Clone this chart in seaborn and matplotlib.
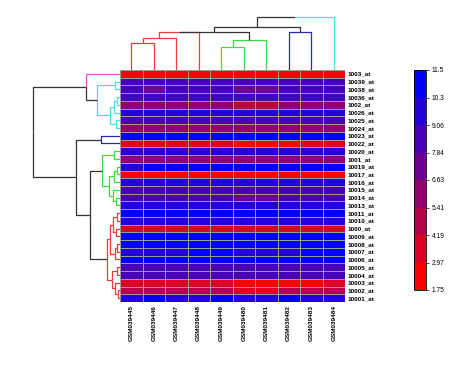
import numpy as np
import pandas as pd
import matplotlib
matplotlib.use("Agg")
import matplotlib.pyplot as plt
from matplotlib.colors import ListedColormap, BoundaryNorm
import seaborn as sns

# ---------------- data ----------------
ROW_LABELS = ["1003_at", "10039_at", "10038_at", "10036_at", "1002_at",
              "10026_at", "10025_at", "10024_at", "10023_at", "10022_at",
              "10020_at", "1001_at", "10019_at", "10017_at", "10016_at",
              "10015_at", "10014_at", "10013_at", "10011_at", "10010_at",
              "1000_at", "10009_at", "10008_at", "10007_at", "10006_at",
              "10005_at", "10004_at", "10003_at", "10002_at", "10001_at"]
COL_LABELS = ["GSM039445", "GSM039446", "GSM039447", "GSM039448", "GSM039449",
              "GSM039480", "GSM039481", "GSM039482", "GSM039483", "GSM039484"]

VALUES = [
    [2.6, 2.5, 2.6, 2.7, 2.6, 2.4, 2.3, 2.5, 2.6, 2.6],
    [8.3, 8.5, 8.6, 8.4, 8.6, 8.8, 8.5, 8.7, 8.6, 8.5],
    [7.9, 7.8, 8.0, 7.9, 8.1, 7.7, 7.8, 8.0, 8.2, 8.0],
    [8.1, 8.0, 8.2, 8.1, 8.0, 8.3, 8.2, 8.4, 8.1, 8.2],
    [5.6, 5.5, 5.7, 5.6, 5.5, 5.3, 5.4, 6.4, 6.5, 6.2],
    [9.2, 9.3, 9.1, 9.4, 9.3, 9.5, 9.2, 9.4, 9.6, 9.3],
    [8.0, 8.1, 7.9, 8.0, 8.2, 7.9, 8.1, 8.3, 8.4, 8.1],
    [5.8, 5.9, 5.7, 5.8, 6.0, 5.6, 5.7, 6.5, 6.6, 6.2],
    [10.6, 10.7, 10.5, 10.6, 10.8, 10.4, 10.6, 10.7, 10.5, 10.6],
    [3.6, 3.5, 3.7, 3.6, 3.5, 2.6, 2.5, 2.7, 3.4, 3.5],
    [9.3, 9.2, 9.4, 9.3, 9.1, 9.5, 9.3, 9.4, 9.6, 9.4],
    [6.0, 5.9, 6.1, 6.0, 6.2, 5.7, 5.6, 5.8, 6.1, 6.0],
    [10.2, 10.4, 10.5, 10.3, 10.4, 10.6, 10.5, 10.4, 10.3, 10.4],
    [2.3, 2.2, 2.4, 2.3, 2.2, 2.1, 2.2, 2.3, 2.4, 2.3],
    [9.5, 9.6, 9.4, 9.5, 9.7, 9.3, 9.5, 9.6, 9.4, 9.5],
    [8.2, 8.3, 8.1, 8.2, 8.4, 8.0, 8.3, 8.5, 8.4, 8.2],
    [8.0, 8.1, 7.9, 8.0, 8.1, 6.9, 7.8, 8.2, 8.3, 8.1],
    [9.3, 9.4, 9.2, 9.3, 9.5, 9.1, 9.3, 9.4, 9.6, 9.3],
    [10.4, 10.5, 10.3, 10.4, 10.6, 10.3, 10.5, 10.4, 10.6, 10.5],
    [9.4, 9.5, 9.3, 9.4, 9.6, 9.2, 9.4, 9.5, 9.7, 9.4],
    [3.5, 3.6, 3.4, 3.5, 3.6, 3.2, 3.4, 3.5, 3.6, 3.5],
    [10.4, 10.5, 10.6, 10.4, 10.5, 10.6, 10.7, 10.5, 10.4, 10.5],
    [10.8, 10.9, 10.7, 10.8, 11.0, 10.7, 10.8, 10.9, 10.7, 10.8],
    [9.8, 9.9, 9.7, 10.4, 10.5, 9.7, 9.8, 9.9, 10.4, 10.5],
    [11.0, 11.1, 10.9, 11.0, 11.2, 10.9, 11.0, 11.1, 10.9, 11.0],
    [8.1, 8.2, 8.0, 8.1, 8.3, 7.9, 8.1, 8.2, 8.0, 8.1],
    [8.6, 8.7, 8.5, 8.6, 8.8, 8.4, 8.6, 8.7, 8.5, 8.6],
    [3.6, 3.5, 3.7, 3.6, 3.5, 2.6, 2.5, 2.7, 2.8, 3.5],
    [5.0, 5.1, 4.9, 5.0, 5.2, 3.9, 3.8, 4.9, 5.0, 5.1],
    [10.2, 10.3, 10.1, 10.2, 10.4, 10.1, 10.2, 10.3, 10.1, 10.2],
]

CBAR_TICKS = [1.75, 2.97, 4.19, 5.41, 6.63, 7.84, 9.06, 10.3, 11.5]
CBAR_LABELS = ["1.75", "2.97", "4.19", "5.41", "6.63", "7.84", "9.06", "10.3", "11.5"]

# row dendrogram: merges (child a, child b, height); leaves 0..29, new nodes 30..
ROW_LINK_A = [3, 30, 6, 31, 1, 34, 0, 8, 10, 12, 39, 16, 15, 40, 38,
              18, 20, 45, 22, 48, 47, 25, 28, 27, 51, 50, 44, 37, 36]
ROW_LINK_B = [4, 5, 7, 32, 2, 33, 35, 9, 11, 13, 14, 17, 41, 42, 43,
              19, 21, 46, 23, 24, 49, 26, 29, 52, 53, 54, 55, 56, 57]
ROW_LINK_H = [3, 6, 4, 10, 5, 23, 34, 19, 6, 3, 6, 4, 7, 11, 18,
              3, 4, 7, 3, 5, 10, 3, 2, 5, 8, 13, 30, 44, 87]
ROW_CLUSTER = ["m"] + ["c"] * 7 + ["b"] * 2 + ["g"] * 8 + ["r"] * 12

# column dendrogram: leaves 0..9, new nodes 10..
COL_LINK_A = [0, 10, 11, 4, 13, 12, 7, 15, 17]
COL_LINK_B = [1, 2, 3, 5, 6, 14, 8, 16, 9]
COL_LINK_H = [26.7, 32.3, 37.7, 23.3, 30.0, 38.3, 37.7, 43.3, 53.3]
COL_CLUSTER = ["r"] * 4 + ["g"] * 3 + ["b"] * 2 + ["c"]

LINE_COLORS = {"r": "#ee3a3a", "g": "#3ade3a", "b": "#2828c0",
               "c": "#4adede", "m": "#e84ae8", None: "#333333"}

# ---------------- figure ----------------
W, H = 474, 370
fig = plt.figure(figsize=(W / 100, H / 100), dpi=100)
fig.patch.set_facecolor("white")


def fx(px):
    return px / W


def fy(px):
    return 1 - px / H


hm_l, hm_r, hm_t, hm_b = 120, 345, 70, 302
ax_h = fig.add_axes([fx(hm_l), fy(hm_b), fx(hm_r - hm_l), (hm_b - hm_t) / H])
ax_row = fig.add_axes([fx(30), fy(hm_b), fx(hm_l - 30), (hm_b - hm_t) / H])
ax_col = fig.add_axes([fx(hm_l), fy(hm_t), fx(hm_r - hm_l), 55 / H])
ax_cb = fig.add_axes([fx(414), fy(290), fx(12), 220 / H])

n_bins = len(CBAR_TICKS) - 1
colors = [(1 - i / (n_bins - 1), 0.0, i / (n_bins - 1)) for i in range(n_bins)]
cmap = ListedColormap(colors)
norm = BoundaryNorm(CBAR_TICKS, n_bins)

df = pd.DataFrame(VALUES, index=ROW_LABELS, columns=COL_LABELS)
sns.heatmap(df, ax=ax_h, cmap=cmap, norm=norm, cbar_ax=ax_cb,
            linewidths=0.5, linecolor="#9a9a9a",
            xticklabels=COL_LABELS, yticklabels=ROW_LABELS,
            cbar_kws={"ticks": CBAR_TICKS})

ax_h.yaxis.tick_right()
ax_h.set_yticklabels(ROW_LABELS, rotation=0, fontsize=4.6,
                     fontweight="bold", family="Liberation Sans")
ax_h.set_xticklabels(COL_LABELS, rotation=90, fontsize=4.6,
                     fontweight="bold", family="Liberation Sans")
ax_h.tick_params(axis="both", length=0, pad=2)
ax_h.set_xlabel("")
ax_h.set_ylabel("")
for s in ax_h.spines.values():
    s.set_visible(False)

cb = ax_h.collections[0].colorbar
cb.set_ticks(CBAR_TICKS)
cb.set_ticklabels(CBAR_LABELS)
cb.ax.tick_params(labelsize=4.8, length=2, width=0.5, pad=2)
for t in cb.ax.get_yticklabels():
    t.set_family("Liberation Sans")
cb.outline.set_edgecolor("black")
cb.outline.set_linewidth(0.6)


def draw_dendro(ax, leaf_cluster, link_a, link_b, link_h, orient):
    n = len(leaf_cluster)
    pos = {i: i + 0.5 for i in range(n)}
    hgt = {i: 0.0 for i in range(n)}
    ncol = {i: leaf_cluster[i] for i in range(n)}
    for k, (a, b, h) in enumerate(zip(link_a, link_b, link_h)):
        nid = n + k
        pos[nid] = (pos[a] + pos[b]) / 2
        hgt[nid] = h
        ncol[nid] = ncol[a] if (ncol[a] == ncol[b] and ncol[a] is not None) else None
        for child in (a, b):
            if ncol[nid] is not None:
                c = ncol[nid]
            elif child < n:
                c = leaf_cluster[child]
            else:
                c = None
            p = [pos[child], pos[child], pos[nid]]
            q = [hgt[child], h, h]
            if orient == "top":
                ax.plot(p, q, color=LINE_COLORS[c], lw=0.9, solid_capstyle="butt")
            else:
                ax.plot(q, p, color=LINE_COLORS[c], lw=0.9, solid_capstyle="butt")


draw_dendro(ax_row, ROW_CLUSTER, ROW_LINK_A, ROW_LINK_B, ROW_LINK_H, "left")
ax_row.set_xlim(90, 0)
ax_row.set_ylim(len(ROW_LABELS), 0)
ax_row.axis("off")

draw_dendro(ax_col, COL_CLUSTER, COL_LINK_A, COL_LINK_B, COL_LINK_H, "top")
ax_col.set_xlim(0, len(COL_LABELS))
ax_col.set_ylim(0, 55)
ax_col.axis("off")

fig.savefig("out.png", dpi=100, facecolor="white")
